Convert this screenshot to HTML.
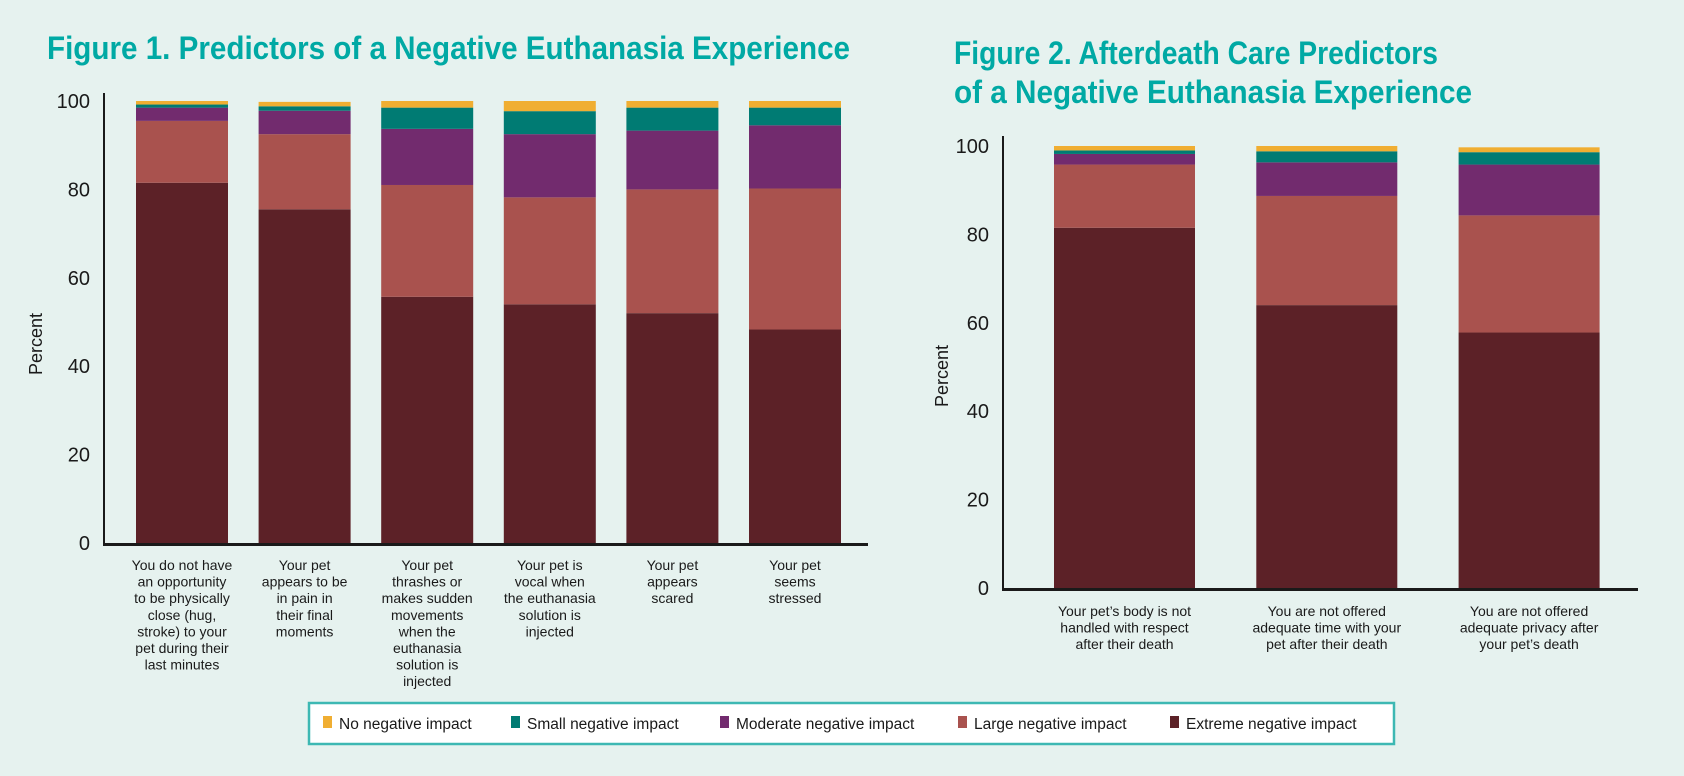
<!DOCTYPE html>
<html><head><meta charset="utf-8">
<style>
html,body{margin:0;padding:0;background:#e6f2ef;}
svg{display:block;font-family:"Liberation Sans",sans-serif;}
</style></head>
<body>
<svg id="svg" width="1684" height="776" viewBox="0 0 1684 776">
<rect x="0" y="0" width="1684" height="776" fill="#e6f2ef"/>
<text x="47" y="59" font-size="32" font-weight="bold" fill="#00a9a4" textLength="803" lengthAdjust="spacingAndGlyphs" font-family="Liberation Sans, sans-serif">Figure 1. Predictors of a Negative Euthanasia Experience</text>
<text x="954" y="64" font-size="32" font-weight="bold" fill="#00a9a4" textLength="484" lengthAdjust="spacingAndGlyphs" font-family="Liberation Sans, sans-serif">Figure 2. Afterdeath Care Predictors</text>
<text x="954" y="103" font-size="32" font-weight="bold" fill="#00a9a4" textLength="518" lengthAdjust="spacingAndGlyphs" font-family="Liberation Sans, sans-serif">of a Negative Euthanasia Experience</text>
<g id="c1"></g>
<g id="c2"></g>
<g id="legend"></g>
</svg>
<script>
const seriesNames = ["Extreme negative impact","Large negative impact","Moderate negative impact","Small negative impact","No negative impact"];
const seriesColors = ["#5c2127","#a9524e","#722b6e","#007b73","#f0ae32"];
const yTicks = [0,20,40,60,80,100];

const fig1Categories = [
 ["You do not have","an opportunity","to be physically","close (hug,","stroke) to your","pet during their","last minutes"],
 ["Your pet","appears to be","in pain in","their final","moments"],
 ["Your pet","thrashes or","makes sudden","movements","when the","euthanasia","solution is","injected"],
 ["Your pet is","vocal when","the euthanasia","solution is","injected"],
 ["Your pet","appears","scared"],
 ["Your pet","seems","stressed"]
];
const fig1Extreme  = [81.5, 75.5, 55.7, 54.0, 52.0, 48.3];
const fig1Large    = [14.0, 17.0, 25.3, 24.2, 28.0, 31.9];
const fig1Moderate = [3.0, 5.3, 12.7, 14.3, 13.3, 14.3];
const fig1Small    = [0.7, 1.0, 4.8, 5.2, 5.2, 4.0];
const fig1None     = [0.8, 1.0, 1.5, 2.3, 1.5, 1.5];

const fig2Categories = [
 ["Your pet’s body is not","handled with respect","after their death"],
 ["You are not offered","adequate time with your","pet after their death"],
 ["You are not offered","adequate privacy after","your pet’s death"]
];
const fig2Extreme  = [81.5, 64.0, 57.8];
const fig2Large    = [14.3, 24.7, 26.5];
const fig2Moderate = [2.4, 7.6, 11.5];
const fig2Small    = [0.8, 2.5, 2.8];
const fig2None     = [1.0, 1.2, 1.1];

const NS="http://www.w3.org/2000/svg";
function mk(tag, attrs, parent){const e=document.createElementNS(NS,tag);for(const k in attrs)e.setAttribute(k,attrs[k]);parent.appendChild(e);return e;}

function drawChart(g, cfg, cats, series){
  const yScale = v => cfg.y0 - (v/100)*(cfg.y0-cfg.y100);
  const xBand = i => cfg.firstBar + i*cfg.pitch;
  const ya = mk("line",{x1:cfg.ax,y1:cfg.axTop,x2:cfg.ax,y2:cfg.y0+1.5,stroke:"#1a1a1a","stroke-width":2},g);
  
  
  yTicks.forEach(t=>{
    const tx = mk("text",{x:cfg.ax-14,y:yScale(t)+7,"text-anchor":"end","font-size":20,fill:"#1a1a1a"},g);
    tx.textContent=t;
    
    
  });
  const yt = mk("text",{x:0,y:0,transform:`translate(${cfg.titleX},${cfg.titleY}) rotate(-90)`,"text-anchor":"middle","font-size":18,fill:"#1a1a1a"},g);
  yt.textContent="Percent";
  
  
  cats.forEach((lines,i)=>{
    const x = xBand(i);
    let cum=0;
    series.forEach((vals,s)=>{
      const v=vals[i];
      const r = mk("rect",{x:x,y:yScale(cum+v),width:cfg.bw,height:yScale(cum)-yScale(cum+v),fill:seriesColors[s]},g);
      
      
      cum+=v;
    });
    lines.forEach((ln,k)=>{
      const t = mk("text",{x:x+cfg.bw/2,y:cfg.labelY+k*16.6,"text-anchor":"middle","font-size":14,fill:"#1a1a1a"},g);
      t.textContent=ln;
      
      
      const w=t.getComputedTextLength();
      if(w>95){t.setAttribute('textLength',w*0.6+ (w-95)*0 + 95*0.4*(w/95)); t.setAttribute('lengthAdjust','spacingAndGlyphs');}
    });
  });
  const xa = mk("line",{x1:cfg.ax-1,y1:cfg.y0+1.5,x2:cfg.axRight,y2:cfg.y0+1.5,stroke:"#1a1a1a","stroke-width":3},g);
  
  
}

drawChart(document.getElementById("c1"),
 {ax:104,axTop:93,axRight:868,y0:543,y100:101,firstBar:136,pitch:122.6,bw:92,labelY:570,titleX:42,titleY:344},
 fig1Categories,[fig1Extreme,fig1Large,fig1Moderate,fig1Small,fig1None]);
drawChart(document.getElementById("c2"),
 {ax:1003,axTop:136,axRight:1638,y0:588,y100:146,firstBar:1054,pitch:202.3,bw:141,labelY:616,titleX:948,titleY:376},
 fig2Categories,[fig2Extreme,fig2Large,fig2Moderate,fig2Small,fig2None]);

const lg=document.getElementById("legend");
const box=mk("rect",{x:309,y:703,width:1085,height:41,fill:"#ffffff",stroke:"#3db8b3","stroke-width":2.5},lg);


const legendOrder=[4,3,2,1,0];
const legendX=[323,511,720,958,1170];
legendOrder.forEach((s,k)=>{
  const sw=mk("rect",{x:legendX[k],y:716,width:9,height:12,fill:seriesColors[s]},lg);
  
  
  const t=mk("text",{x:legendX[k]+16,y:729,"font-size":15.5,fill:"#1a1a1a"},lg);
  t.textContent=seriesNames[s];
  
  
});
</script>
</body></html>
